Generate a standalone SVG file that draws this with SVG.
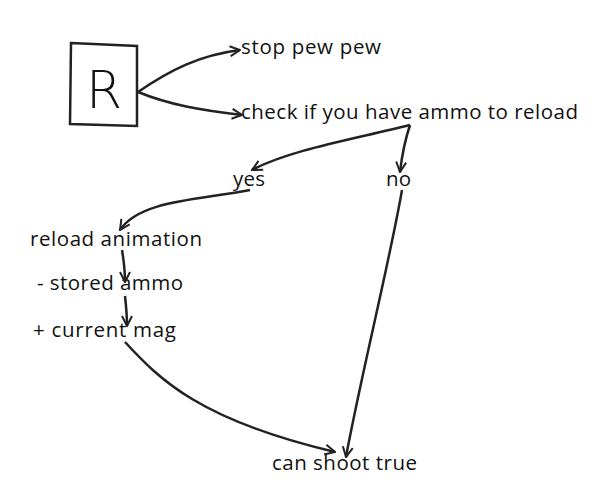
<svg xmlns="http://www.w3.org/2000/svg" width="606" height="500" viewBox="0 0 606 500">
<defs><marker id="a" viewBox="0 0 12 12" refX="11" refY="6" markerWidth="12" markerHeight="12" markerUnits="userSpaceOnUse" orient="auto"><path d="M1,1 L11,6 L1,11" fill="none" stroke="#222" stroke-width="2"/></marker></defs>
<style>text{font-family:"Open Sans","Liberation Sans",sans-serif;font-size:20.5px;fill:#111}.c{fill:none;stroke:#222;stroke-width:2.5;marker-end:url(#a)}</style>
<rect width="606" height="500" fill="#fff"/>
<g id="r"><path d="M71,43 L137,46 L137,126 L70,124 Z" fill="none" stroke="#222" stroke-width="2.5"/><text x="86" y="108" style="font-size:52px;font-family:'DejaVu Sans',sans-serif;font-weight:200">R</text></g>
<g id="stop"><text x="241" y="54" textLength="140">stop pew pew</text></g>
<g id="check"><text x="241" y="119" textLength="337">check if you have ammo to reload</text></g>
<g id="yes"><text x="233" y="186" textLength="32">yes</text></g>
<g id="no"><text x="386" y="186" textLength="25">no</text></g>
<g id="reload"><text x="30" y="246" textLength="172">reload animation</text></g>
<g id="stored"><text x="37" y="290" textLength="146">- stored ammo</text></g>
<g id="mag"><text x="33" y="337" textLength="143">+ current mag</text></g>
<g id="shoot"><text x="272" y="470" textLength="145">can shoot true</text></g>
<g id="connectors">
<path class="c" d="M138,92 C170,70 200,55 240,50"/>
<path class="c" d="M138,92 C170,105 200,110 242,115"/>
<path class="c" d="M410,125 C350,140 290,150 252,170"/>
<path class="c" d="M410,125 C405,140 402,155 400,172"/>
<path class="c" d="M250,190 C200,200 140,200 120,230"/>
<path class="c" d="M122,250 C124,262 125,270 125,282"/>
<path class="c" d="M125,296 C126,305 127,315 127,326"/>
<path class="c" d="M125,342 C160,380 200,420 335,452"/>
<path class="c" d="M402,190 C390,260 360,380 346,457"/>
</g>
</svg>
